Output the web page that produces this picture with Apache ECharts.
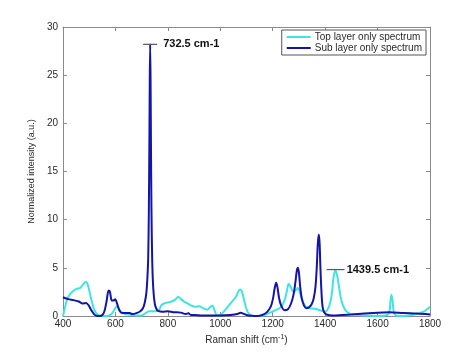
<!DOCTYPE html>
<html><head><meta charset="utf-8">
<script src="https://cdn.jsdelivr.net/npm/echarts@6/dist/echarts.min.js"></script>
<style>html,body{margin:0;padding:0;background:#fff}#c{width:474px;height:355px}</style>
</head><body><div id="c"></div>
<script>
var xTicks = [400, 600, 800, 1000, 1200, 1400, 1600, 1800];
var yTicks = [0, 5, 10, 15, 20, 25, 30];
var seriesNames = ['Top layer only spectrum', 'Sub layer only spectrum'];
var peakLabels = ['732.5 cm-1', '1439.5 cm-1'];
var peakTop = [1440, 4.82];
var peakSub = [732.5, 28.2];

var topLayer = [[400,0],[405,0.6],[412,1.4],[420,2.0],[435,2.5],[450,2.8],[465,2.9],[475,3.2],[487,3.55],[495,3.2],[503,2.3],[512,1.3],[520,0.6],[530,0.2],[545,0.0],[570,0.0],[585,0.2],[595,0.6],[605,1.0],[612,0.8],[622,0.4],[640,0.2],[660,0.1],[680,0.05],[700,0.05],[715,0.3],[730,0.5],[750,0.5],[765,0.6],[775,1.1],[785,1.3],[800,1.4],[815,1.5],[828,1.7],[840,2.0],[850,1.75],[862,1.5],[875,1.3],[888,1.1],[905,0.95],[920,1.0],[935,0.8],[950,0.65],[962,0.95],[970,1.1],[978,0.6],[988,0.05],[1000,0.1],[1015,0.5],[1030,1.0],[1045,1.5],[1060,2.0],[1070,2.6],[1076,2.75],[1083,2.5],[1093,1.4],[1103,0.5],[1115,0.1],[1130,0.0],[1150,0.0],[1170,0.1],[1190,0.35],[1210,0.6],[1230,0.9],[1245,1.6],[1254,2.6],[1261,3.35],[1269,3.0],[1279,2.5],[1289,2.7],[1296,2.9],[1304,2.4],[1314,1.6],[1325,1.0],[1340,0.8],[1360,0.75],[1380,0.6],[1400,0.45],[1415,1.0],[1425,2.2],[1432,4.0],[1439,4.75],[1446,4.2],[1453,3.0],[1462,1.6],[1475,0.7],[1490,0.3],[1510,0.15],[1550,0.05],[1600,0.0],[1630,0.05],[1644,0.3],[1649,1.5],[1653,2.2],[1657,1.6],[1662,0.4],[1670,0.05],[1700,0.0],[1730,0.1],[1760,0.3],[1780,0.5],[1800,0.95]];

var subLayer = [[400,1.95],[420,1.75],[440,1.65],[460,1.5],[475,1.3],[488,1.35],[498,1.1],[508,0.6],[518,0.2],[528,0.02],[540,0.0],[550,0.1],[558,0.5],[566,1.5],[574,2.65],[579,2.5],[586,1.6],[592,1.6],[599,1.75],[606,1.3],[615,0.6],[625,0.3],[640,0.3],[655,0.3],[665,0.2],[680,0.3],[695,0.5],[705,0.8],[712,1.4],[718,2.4],[722,4.0],[725,6.0],[727.5,10.9],[729.5,17.9],[731,24.6],[732.5,28.2],[734,24.6],[735.5,17.9],[737.5,10.9],[740.5,5.6],[744.5,2.8],[750,1.3],[757,0.7],[765,0.5],[780,0.45],[800,0.5],[820,0.4],[850,0.35],[868,0.2],[878,0.28],[888,0.1],[900,0.1],[930,0.05],[960,0.05],[1000,0.05],[1040,0.1],[1065,0.2],[1077,0.35],[1088,0.25],[1100,0.1],[1120,0.02],[1140,0.0],[1160,0.1],[1178,0.4],[1193,1.0],[1201,1.8],[1207,2.8],[1213,3.45],[1218,3.0],[1224,1.9],[1232,1.1],[1245,0.6],[1258,0.7],[1270,1.3],[1280,2.3],[1287,3.6],[1292,4.7],[1296,5.0],[1300,4.5],[1305,3.0],[1311,1.8],[1319,1.1],[1328,0.8],[1338,0.9],[1348,1.2],[1356,1.8],[1363,3.0],[1368,5.0],[1372,7.5],[1376,8.45],[1379,7.5],[1382,5.0],[1386,2.5],[1390,1.0],[1396,0.4],[1405,0.15],[1430,0.05],[1500,0.15],[1600,0.35],[1645,0.4],[1700,0.3],[1750,0.25],[1800,0.15]];

var chart = echarts.init(document.getElementById('c'), null, {renderer: 'canvas'});
var axisGray = '#8a8a8a';
var labelColor = '#2a2a2a';
var ff = '"Liberation Sans", Arial, sans-serif';
chart.setOption({
  animation: false,
  textStyle: {fontFamily: ff},
  grid: {left: 63, right: 44, top: 27, bottom: 39, show: false},
  legend: {
    data: seriesNames, orient: 'vertical', right: 48, top: 30,
    itemWidth: 24, itemHeight: 2, itemGap: 1, icon: 'rect',
    backgroundColor: '#fff', borderColor: '#555', borderWidth: 1, borderRadius: 0,
    padding: [2, 4, 2, 5],
    textStyle: {fontSize: 10, color: labelColor, fontFamily: ff, padding: [0, 0, 0, -1]}
  },
  xAxis: [{
    type: 'value', min: xTicks[0], max: xTicks[xTicks.length - 1], interval: 200,
    name: 'Raman shift (cm{sup|-1})', nameLocation: 'middle', nameGap: 16,
    nameTextStyle: {fontSize: 10, color: labelColor, fontFamily: ff, rich: {sup: {fontSize: 7, verticalAlign: 'top', padding: [0, 0, 6, 0]}}},
    axisLine: {show: true, lineStyle: {color: axisGray, width: 1}},
    axisTick: {show: true, inside: true, length: 4, lineStyle: {color: axisGray}},
    axisLabel: {fontSize: 10, color: labelColor, margin: 3, fontFamily: ff, formatter: function (v) { return String(v); }},
    splitLine: {show: false}
  }, {
    type: 'value', position: 'top', min: xTicks[0], max: xTicks[xTicks.length - 1], interval: 200,
    axisLine: {show: true, onZero: false, lineStyle: {color: axisGray, width: 1}},
    axisTick: {show: true, inside: true, length: 4, lineStyle: {color: axisGray}},
    axisLabel: {show: false}, splitLine: {show: false}
  }],
  yAxis: [{
    type: 'value', min: yTicks[0], max: yTicks[yTicks.length - 1], interval: 5,
    name: 'Normalized intensity (a.u.)', nameLocation: 'middle', nameGap: 16,
    nameTextStyle: {fontSize: 9, color: labelColor, fontFamily: ff},
    axisLine: {show: true, lineStyle: {color: axisGray, width: 1}},
    axisTick: {show: true, inside: true, length: 4, lineStyle: {color: axisGray}},
    axisLabel: {fontSize: 10, color: labelColor, margin: 5, fontFamily: ff},
    splitLine: {show: false}
  }, {
    type: 'value', position: 'right', min: yTicks[0], max: yTicks[yTicks.length - 1], interval: 5,
    axisLine: {show: true, onZero: false, lineStyle: {color: axisGray, width: 1}},
    axisTick: {show: true, inside: true, length: 4, lineStyle: {color: axisGray}},
    axisLabel: {show: false}, splitLine: {show: false}
  }],
  series: [{
    name: seriesNames[0], type: 'line', data: topLayer, showSymbol: false, smooth: 0.3,
    lineStyle: {color: '#3ee4e4', width: 2}, itemStyle: {color: '#3ee4e4'}, z: 2,
    markPoint: {
      symbol: 'rect', symbolSize: [18, 1.2], silent: true,
      itemStyle: {color: '#555'},
      label: {show: true, position: 'right', distance: 2, formatter: peakLabels[1], color: '#111', fontSize: 11, fontWeight: 'bold', fontFamily: ff},
      data: [{coord: peakTop}]
    }
  }, {
    name: seriesNames[1], type: 'line', data: subLayer, showSymbol: false, smooth: 0.3,
    lineStyle: {color: '#1414a8', width: 2}, itemStyle: {color: '#1414a8'}, z: 3,
    markPoint: {
      symbol: 'rect', symbolSize: [14, 1.2], silent: true,
      itemStyle: {color: '#555'},
      label: {show: true, position: 'right', distance: 6, formatter: peakLabels[0], color: '#111', fontSize: 11, fontWeight: 'bold', fontFamily: ff},
      data: [{coord: peakSub}]
    }
  }]
});
</script></body></html>
